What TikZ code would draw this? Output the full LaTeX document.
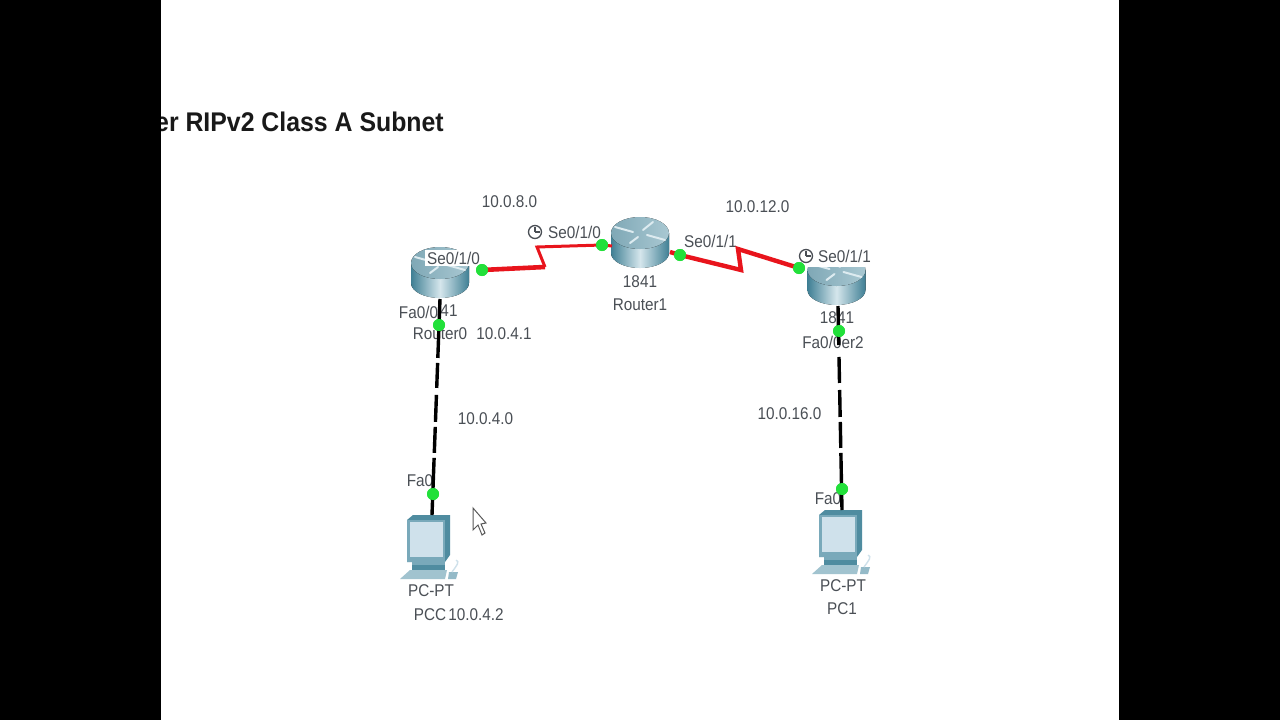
\documentclass[tikz,border=0pt]{standalone}
\usepackage{fontspec}
\setmainfont{Liberation Sans}
\newfontfamily\labfont[FakeStretch=0.9]{Liberation Sans}
\newfontfamily\titlefont[FakeStretch=0.92]{Liberation Sans Bold}
\definecolor{labgray}{HTML}{4A4F55}
\definecolor{portgreen}{HTML}{22E03A}
\definecolor{wanred}{HTML}{E8141C}
\definecolor{steelA}{HTML}{3F7F94}
\definecolor{steelB}{HTML}{D5E6EC}
\definecolor{steelC}{HTML}{7FA8B6}
\definecolor{steelD}{HTML}{A9C8D2}
\definecolor{pcdark}{HTML}{4F8CA0}
\definecolor{pcmid}{HTML}{79A9BA}
\definecolor{pcscreen}{HTML}{CFE1EB}
\tikzset{
  x=1pt,y=-1pt,
  lab/.style={inner sep=0pt,text=labgray,font=\labfont\fontsize{17}{17}\selectfont,anchor=center},
  labw/.style={lab,fill=white,inner xsep=2pt,inner ysep=2pt},
  portdot/.style={circle,fill=portgreen,draw=none,minimum size=12pt,inner sep=0pt},
  wan/.style={draw=wanred,line join=miter,line cap=butt},
  lan/.style={draw=black,line width=3.4pt},
  pics/routericon/.style={code={
    \fill[left color=steelA,right color=steelA,middle color=steelB] (-29,0) -- (-29,20) arc[start angle=180,end angle=0,x radius=29,y radius=15] -- (29,0) -- cycle;
    \fill[left color=steelC,right color=steelD] (0,0) ellipse[x radius=29,y radius=16];
    \draw[steelB!80!white,line width=2pt,line cap=round] (-25,-6) -- (-7,-1) (3,-3) -- (13,-11) (-10,10) -- (-2,4) (7,2) -- (25,7);
  }},
  pics/pcicon/.style={code={
    \fill[pcdark] (0,5) -- (6,0) -- (43,0) -- (43,40) -- (38,47) -- (0,47) -- cycle;
    \fill[pcmid] (0,5) rectangle (38,47);
    \fill[pcscreen] (3,7) rectangle (36,42);
    \fill[pcdark] (5,47) rectangle (38,55);
    \fill[pcmid] (5,47) rectangle (38,50);
    \fill[pcmid!70!white] (-7,64) -- (3,55) -- (40,55) -- (38,64) -- cycle;
    \fill[pcmid!80!white] (42,57) -- (51,57) -- (49,64) -- (41,64) -- cycle;
    \draw[pcscreen,line width=1.4pt] (45,57) .. controls (50,50) and (53,47) .. (49,45);
  }}
}
\begin{document}
\begin{tikzpicture}
\useasboundingbox (0,0) rectangle (1280,720);
\fill[white] (0,0) rectangle (1280,720);

% Devices
\pic at (440,263) {routericon};
\pic at (640,233) {routericon};
\pic at (836.5,270) {routericon};
\pic at (407,515) {pcicon};
\pic at (819,510) {pcicon};
\fill[white] (800,248) rectangle (872,267);

% Title
\node[anchor=west,inner sep=0pt,text=black!90,font=\titlefont\fontsize{27}{27}\selectfont] (title) at (155,122) {er RIPv2 Class A Subnet};

% Labels
\node[lab] (n8) at (509.5,202) {10.0.8.0};
\node[lab] (n12) at (757.5,207) {10.0.12.0};
\node[lab] (n4) at (485.5,419) {10.0.4.0};
\node[lab] (n16) at (789.5,414) {10.0.16.0};
\node[lab] (s1a) at (574.5,232) {Se0/1/0};
\node[labw] (s0a) at (453.5,258) {Se0/1/0};
\node[lab] (s1b) at (710.5,241) {Se0/1/1};
\node[lab] (s2b) at (844.5,256) {Se0/1/1};
\node[lab] (f0) at (418.5,312) {Fa0/0};
\node[lab] (m41) at (449,311) {41};
\node[lab] (r0name) at (440,334) {Router0};
\node[lab] (ip41) at (504,334) {10.0.4.1};
\node[lab] (m1) at (640,282) {1841};
\node[lab] (r1name) at (640,305) {Router1};
\node[lab] (m2) at (837,318) {1841};
\node[lab] (f2) at (833,342) {Fa0/0er2};
\node[lab] (fa0) at (420,481) {Fa0};
\node[lab] (fa1) at (828,499) {Fa0};
\node[lab] (pt0) at (431,591) {PC-PT};
\node[lab] (pc0) at (430,615) {PCC};
\node[lab] (ip42) at (476,615) {10.0.4.2};
\node[lab] (pt1) at (843,586) {PC-PT};
\node[lab] (pc1) at (842,609) {PC1};

% Clock icons
\foreach \cx/\cy/\nm in {535/232/c1,806/256/c2}{
  \node[circle,draw=labgray,line width=1.3pt,fill=white,minimum size=13pt,inner sep=0pt] (\nm) at (\cx,\cy) {};
  \draw[labgray,line width=1.2pt] (\nm.center) -- ++(0,-5) (\nm.center) -- ++(4.5,0);
}

% Ports
\node[portdot] (p0) at (482,270) {};
\node[portdot] (p1) at (602,245) {};
\node[portdot] (p2) at (680,255) {};
\node[portdot] (p3) at (799,268) {};
\node[portdot] (p4) at (439,325) {};
\node[portdot] (p5) at (433,494) {};
\node[portdot] (p6) at (839,331) {};
\node[portdot] (p7) at (842,489) {};
\coordinate (k0a) at (545,267);
\coordinate (k0b) at (537,247);
\coordinate (k1a) at (741,270);
\coordinate (k1b) at (738,249);
\coordinate (r0b) at (440,299);
\coordinate (r2b) at (838,306);
\coordinate (pc0t) at (432,515);
\coordinate (pc1t) at (842,510);
\coordinate (r1l) at (612,246);
\coordinate (r1r) at (670,252);

% Connectors
\draw[wan,line width=4.6pt] (p0.center) -- (k0a);
\draw[wan,line width=3pt] (k0a) -- (k0b) -- (p1.center) -- (r1l);
\draw[wan,line width=4.4pt] (r1r) -- (p2.center) -- (k1a) -- (k1b) -- (p3.center);
\draw[lan,dash pattern=on 59pt off 5pt on 25pt off 7pt on 27pt off 5pt on 26pt off 5pt on 60pt off 0pt] (r0b) -- (pc0t);
\draw[lan,dash pattern=on 39pt off 12pt on 26pt off 7pt on 27pt off 5pt on 26pt off 5pt on 60pt off 0pt] (r2b) -- (pc1t);

% Ports on top of connectors
\foreach \p in {p0,p1,p2,p3,p4,p5,p6,p7}{\fill[portgreen] (\p) circle[radius=6];}

% Mouse pointer
\fill[white,draw=gray!70!black,line width=1pt] (473,508) -- (473,530) -- (478,525) -- (482,535) -- (485,533) -- (481,524) -- (486,523) -- cycle;

% Black side bands
\fill[black] (0,0) rectangle (161,720);
\fill[black] (1119,0) rectangle (1280,720);
\end{tikzpicture}
\end{document}
